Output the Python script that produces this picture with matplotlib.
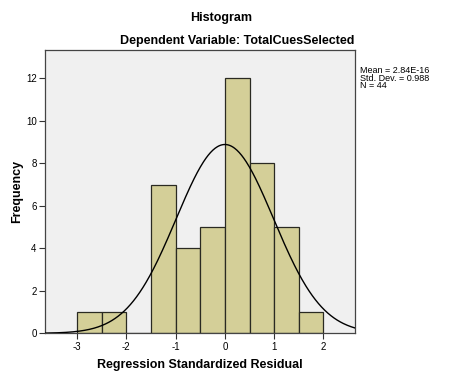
import numpy as np
import matplotlib
matplotlib.use("Agg")
import matplotlib.pyplot as plt

plt.rcParams["font.family"] = ["Liberation Sans", "DejaVu Sans"]

# histogram bins (regression standardized residual) and counts
bin_edges = [-3.0, -2.5, -2.0, -1.5, -1.0, -0.5, 0.0, 0.5, 1.0, 1.5, 2.0]
counts = [1, 1, 0, 7, 4, 5, 12, 8, 5, 1]
mean_val = 2.84e-16
std_val = 0.988
n_obs = 44

x_ticks = [-3, -2, -1, 0, 1, 2]
y_ticks = [0, 2, 4, 6, 8, 10, 12]

fig = plt.figure(figsize=(4.74, 3.79), dpi=100)
ax = fig.add_axes([0.0949, 0.1206, 0.654, 0.7475])
ax.set_facecolor("#f0f0f0")

lefts = np.array(bin_edges[:-1])
widths = np.diff(bin_edges)
ax.bar(lefts, counts, width=widths, align="edge", color="#d4cf98",
       edgecolor="#2a2a22", linewidth=0.9, zorder=2)

# normal curve scaled to counts
xmin, xmax = -3.65, 2.64
xs = np.linspace(xmin, xmax, 400)
bw = widths[0]
ys = n_obs * bw / (std_val * np.sqrt(2 * np.pi)) * np.exp(-0.5 * ((xs - mean_val) / std_val) ** 2)
ax.plot(xs, ys, color="black", linewidth=1.0, zorder=3)

ax.set_xlim(xmin, xmax)
ax.set_ylim(0, 13.33)
ax.set_xticks(x_ticks)
ax.set_xticklabels([str(t) for t in x_ticks])
ax.set_yticks(y_ticks)
ax.tick_params(labelsize=7, length=4, width=0.8, color="#333333", pad=2)
for s in ax.spines.values():
    s.set_color("#444444")
    s.set_linewidth(0.9)

ax.set_xlabel("Regression Standardized Residual", fontsize=9, fontweight="bold", labelpad=5)
ax.set_ylabel("Frequency", fontsize=9, fontweight="bold", labelpad=2)

fig.text(0.466, 0.952, "Histogram", ha="center", va="center", fontsize=9, fontweight="bold")
fig.text(0.50, 0.893, "Dependent Variable: TotalCuesSelected", ha="center", va="center",
         fontsize=9, fontweight="bold")

fig.text(0.759, 0.827, "Mean = 2.84E-16\nStd. Dev. = 0.988\nN = 44", ha="left", va="top",
         fontsize=6.5, linespacing=0.85)

fig.savefig("out.png", dpi=100)
